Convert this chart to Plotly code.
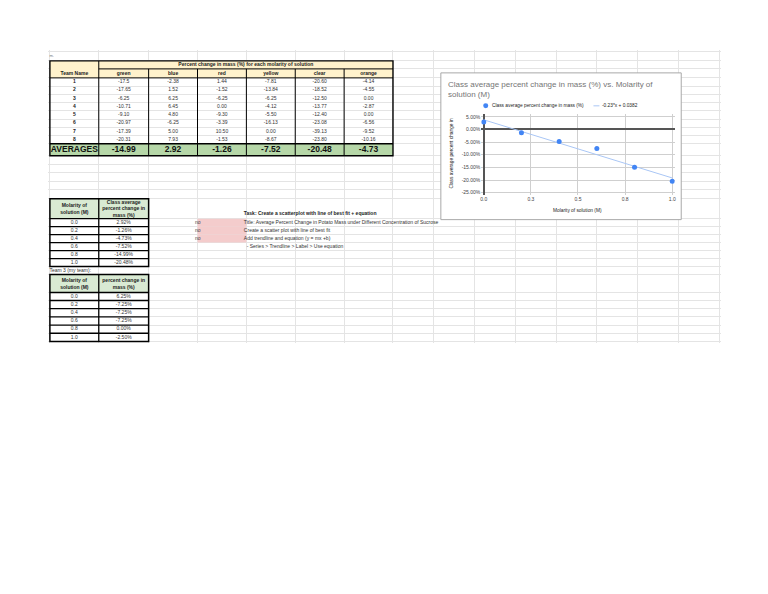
import numpy as np
import plotly.graph_objects as go

# ---------------- data ----------------
TEAM_NAMES = ["1", "2", "3", "4", "5", "6", "7", "8"]
SOLUTIONS = ["green", "blue", "red", "yellow", "clear", "orange"]
GREEN = ["-17.5", "-17.65", "-6.25", "-10.71", "-9.10", "-20.97", "-17.39", "-20.31"]
BLUE = ["-2.38", "1.52", "6.25", "6.45", "4.80", "-6.25", "5.00", "7.93"]
RED = ["1.44", "-1.52", "-6.25", "0.00", "-9.30", "-3.39", "10.50", "-1.53"]
YELLOW = ["-7.81", "-13.84", "-6.25", "-4.12", "-5.50", "-16.13", "0.00", "-8.67"]
CLEAR = ["-20.60", "-18.52", "-12.50", "-13.77", "-12.40", "-23.08", "-39.13", "-23.80"]
ORANGE = ["-4.14", "-4.55", "0.00", "-2.87", "0.00", "-6.56", "-9.52", "-10.16"]
AVERAGES = [-14.99, 2.92, -1.26, -7.52, -20.48, -4.73]

MOLARITY = [0.0, 0.2, 0.4, 0.6, 0.8, 1.0]
CLASS_AVG_PCT = [2.92, -1.26, -4.73, -7.52, -14.99, -20.48]
TEAM3_PCT = [6.25, -7.25, -7.25, -7.25, 0.00, -2.50]

X_TICKS = [0.0, 0.25, 0.5, 0.75, 1.0]
X_TICK_TEXT = ["0.0", "0.3", "0.5", "0.8", "1.0"]
Y_TICKS = [0.05, 0.0, -0.05, -0.10, -0.15, -0.20, -0.25]
Y_TICK_TEXT = ["5.00%", "0.00%", "-5.00%", "-10.00%", "-15.00%", "-20.00%", "-25.00%"]

CHART_TITLE = "Class average percent change in mass (%) vs. Molarity of<br>solution (M)"
SERIES_NAME = "Class average percent change in mass (%)"
X_TITLE = "Molarity of solution (M)"
Y_TITLE = "Class average percent change in"
TABLE_TITLE = "Percent change in mass (%) for each molarity of solution"
TASK_TITLE = "Task: Create a scatterplot with line of best fit + equation"
TASK_STATUS = ["no", "no", "no"]
TASK_ITEMS = [
    "Title: Average Percent Change in Potato Mass under Different Concentration of Sucrose",
    "Create a scatter plot with line of best fit",
    "Add trendline and equation (y = mx +b)",
    "  - Series > Trendline > Label > Use equation",
]

# ---------------- layout geometry (screen pixels) ----------------
OFF = 8                      # page body margin of the browser
W, H = 768 - OFF, 594 - OFF  # figure size so that it fits the window
FONT = "Liberation Sans"
SHEET_COLS = [49, 98, 148, 197, 246, 295, 344, 393, 434, 475, 516, 557, 597, 638, 679, 720]
SHEET_ROWS = [51, 60, 68, 77, 85.25, 93.5, 101.75, 110, 118.25, 126.5, 134.75, 143,
              155, 163.5, 172, 180.5, 189, 198, 218, 226, 234, 242, 250, 258, 266,
              274, 292, 300, 308.2, 316.4, 324.6, 332.8, 341]
PAD = 1.6


def pxx(x):
    return (x - OFF) / W


def pxy(y):
    return 1 - (y - OFF) / H


def mid(a, b):
    return (a + b) / 2


C = SHEET_COLS
R = SHEET_ROWS

fig = go.Figure()


def add_text(xs, ys, texts, size=5.0, color="#222222", bold=False, pos="middle center"):
    if bold:
        texts = [f"<b>{t}</b>" for t in texts]
    fig.add_trace(go.Scatter(
        x=xs, y=ys, text=texts, mode="text", textposition=pos,
        textfont=dict(size=size, color=color, family=FONT),
        hoverinfo="skip", showlegend=False, xaxis="x", yaxis="y", cliponaxis=False))


shapes = []


def rect(x0, x1, y0, y1, fill="rgba(0,0,0,0)", lc="rgba(0,0,0,0)", lw=0, layer="between"):
    shapes.append(dict(type="rect", xref="x", yref="y", x0=x0, x1=x1, y0=y0, y1=y1,
                       fillcolor=fill, line=dict(color=lc, width=lw), layer=layer))


def line(x0, x1, y0, y1, lc="#000000", lw=1.0, layer="between"):
    shapes.append(dict(type="line", xref="x", yref="y", x0=x0, x1=x1, y0=y0, y1=y1,
                       line=dict(color=lc, width=lw), layer=layer))


# ---- Table 1 ----
YEL = "#fff2cc"
rect(C[0], C[7], R[1], R[3], fill=YEL)
rect(C[0], C[7], R[11], R[12], fill="#b6d7a8")
line(C[1], C[7], R[2], R[2])
line(C[0], C[7], R[3], R[3])
line(C[0], C[7], R[11], R[11], lw=1.6)
line(C[1], C[1], R[1], R[12])
for k in range(2, 7):
    line(C[k], C[k], R[2], R[12])
rect(C[0], C[7], R[1], R[12], lc="#000000", lw=1.4)

add_text([mid(C[1], C[7])], [mid(R[1], R[2])], [TABLE_TITLE], bold=True)
add_text([mid(C[0], C[1])] + [mid(C[k + 1], C[k + 2]) for k in range(6)],
         [mid(R[2], R[3])] * 7, ["Team Name"] + SOLUTIONS, bold=True)
add_text([mid(C[0], C[1])] * 8, [mid(R[3 + i], R[4 + i]) for i in range(8)], TEAM_NAMES, bold=True)
for k, col in enumerate([GREEN, BLUE, RED, YELLOW, CLEAR, ORANGE]):
    add_text([mid(C[k + 1], C[k + 2])] * 8, [mid(R[3 + i], R[4 + i]) for i in range(8)], col,
             color="#333333")
add_text([mid(C[0], C[1])] + [mid(C[k + 1], C[k + 2]) for k in range(6)],
         [mid(R[11], R[12]) + 0.3] * 7, ["AVERAGES"] + [f"{v:.2f}" for v in AVERAGES],
         size=8.5, bold=True, color="#111111")
add_text([C[0] - 0.5], [mid(R[0], R[1])], ["m."], size=4, color="#777777", pos="middle right")

# ---- Table 2 & 3 ----
GRN = "#d9ead3"


def small_table(top, head, bottom, headers, vals):
    rect(C[0], C[2], R[top], R[head], fill=GRN)
    rect(C[0], C[2], R[head], R[bottom], fill="white")
    for r in range(head, bottom):
        line(C[0], C[2], R[r], R[r], lw=1.3)
    line(C[1], C[1], R[top], R[bottom], lw=1.3)
    rect(C[0], C[2], R[top], R[bottom], lc="#000000", lw=1.5)
    add_text([mid(C[0], C[1]), mid(C[1], C[2])], [mid(R[top], R[head]) + 0.5] * 2, headers, bold=True)
    ys = [mid(R[head + i], R[head + i + 1]) for i in range(len(vals))]
    add_text([mid(C[0], C[1])] * len(vals), ys, [f"{m:.1f}" for m in MOLARITY], color="#333333")
    add_text([mid(C[1], C[2])] * len(vals), ys, [f"{v:.2f}%" for v in vals], color="#333333")


small_table(17, 18, 24, ["Molarity of<br>solution (M)", "Class average<br>percent change in<br>mass (%)"],
            CLASS_AVG_PCT)
add_text([C[0] - 0.5], [mid(R[24], R[25])], ["Team 3 (my team):"], color="#333333", pos="middle right")
small_table(25, 26, 32, ["Molarity of<br>solution (M)", "percent change in<br>mass (%)"], TEAM3_PCT)

# ---- task block ----
for i in range(len(TASK_STATUS)):
    rect(C[3], C[4], R[18 + i], R[19 + i], fill="#f4cccc")
add_text([C[3] - 2.5] * 3, [mid(R[18 + i], R[19 + i]) for i in range(3)], TASK_STATUS,
         color="#444444", pos="middle right")
add_text([C[4] - 2.5], [R[18] - 5], [TASK_TITLE], bold=True, pos="middle right")
add_text([C[4] - 2.5] * 4, [mid(R[18 + i], R[19 + i]) for i in range(4)], TASK_ITEMS,
         color="#333333", pos="middle right")

# ---- chart box ----
BOX = (441, 682, 72, 219)
rect(BOX[0], BOX[1], BOX[2], BOX[3], fill="white", lc="#a8a8a8", lw=1)

# ---------------- chart ----------------
PX0, PX1, PY_TOP, PY_BOT = 484, 673, 116, 192
cpad = 2.5
xs_per_px = (X_TICKS[-1] - X_TICKS[0]) / (PX1 - PX0)
ys_per_px = (Y_TICKS[0] - Y_TICKS[-1]) / (PY_BOT - PY_TOP)

x_arr = np.array(MOLARITY)
y_arr = np.array(CLASS_AVG_PCT) / 100.0
slope, intercept = np.polyfit(x_arr, y_arr, 1)
fit_label = f"{slope:.2f}*x + {intercept:.4f}"
x_fit = np.array([min(MOLARITY), max(MOLARITY)])

fig.add_trace(go.Scatter(x=x_fit, y=slope * x_fit + intercept, mode="lines",
                         line=dict(color="#a9c6f5", width=1), xaxis="x2", yaxis="y2",
                         hoverinfo="skip", showlegend=False))
fig.add_trace(go.Scatter(x=MOLARITY, y=y_arr, mode="markers", name=SERIES_NAME,
                         marker=dict(color="#4285f4", size=5), xaxis="x2", yaxis="y2",
                         showlegend=False))

# manual legend & titles (in sheet pixel coordinates)
LEG_Y = 105
shapes.append(dict(type="circle", xref="x", yref="y", x0=483.5, x1=488.5, y0=LEG_Y - 2.5, y1=LEG_Y + 2.5,
                   fillcolor="#4285f4", line=dict(width=0), layer="above"))
line(594, 600, LEG_Y, LEG_Y, lc="#a9c6f5", lw=1, layer="above")

ann = []
ann.append(dict(xref="x", yref="y", x=446, y=89, text=CHART_TITLE, showarrow=False,
                xanchor="left", yanchor="middle", align="left",
                font=dict(size=8, color="#757575", family=FONT)))
ann.append(dict(xref="x", yref="y", x=490, y=LEG_Y, text=SERIES_NAME, showarrow=False,
                xanchor="left", yanchor="middle", font=dict(size=4.8, color="#222222", family=FONT)))
ann.append(dict(xref="x", yref="y", x=601, y=LEG_Y, text=fit_label, showarrow=False,
                xanchor="left", yanchor="middle", font=dict(size=4.8, color="#222222", family=FONT)))
ann.append(dict(xref="x", yref="y", x=452, y=153, text=Y_TITLE, showarrow=False, textangle=-90,
                xanchor="center", yanchor="middle", font=dict(size=4.8, color="#222222", family=FONT)))
ann.append(dict(xref="x", yref="y", x=578, y=210, text=X_TITLE, showarrow=False,
                xanchor="center", yanchor="middle", font=dict(size=4.8, color="#222222", family=FONT)))

tickfont = dict(size=5, color="#444444", family=FONT)
fig.update_layout(
    width=W, height=H, margin=dict(l=0, r=0, t=0, b=0),
    paper_bgcolor="white", plot_bgcolor="rgba(0,0,0,0)", showlegend=False,
    xaxis=dict(domain=[pxx(C[0] - PAD), pxx(C[-1] + PAD)], range=[C[0] - PAD, C[-1] + PAD],
               tickvals=SHEET_COLS, showgrid=True, gridcolor="#e4e4e4", gridwidth=1,
               showticklabels=False, zeroline=False, ticks="", showline=False, fixedrange=True),
    yaxis=dict(domain=[pxy(R[-1] + PAD), pxy(R[0] - PAD)], range=[R[-1] + PAD, R[0] - PAD],
               tickvals=SHEET_ROWS, showgrid=True, gridcolor="#e4e4e4", gridwidth=1,
               showticklabels=False, zeroline=False, ticks="", showline=False, fixedrange=True),
    xaxis2=dict(domain=[pxx(PX0 - cpad), pxx(PX1 + cpad)],
                range=[X_TICKS[0] - cpad * xs_per_px, X_TICKS[-1] + cpad * xs_per_px],
                anchor="y2", tickvals=X_TICKS, ticktext=X_TICK_TEXT, showgrid=True,
                gridcolor="#cfcfcf", gridwidth=1, zeroline=True, zerolinecolor="#555555",
                zerolinewidth=2, ticks="", tickfont=tickfont, showline=False),
    yaxis2=dict(domain=[pxy(PY_BOT + cpad), pxy(PY_TOP - cpad)],
                range=[Y_TICKS[-1] - cpad * ys_per_px, Y_TICKS[0] + cpad * ys_per_px],
                anchor="x2", tickvals=Y_TICKS, ticktext=Y_TICK_TEXT, showgrid=True,
                gridcolor="#cfcfcf", gridwidth=1, zeroline=True, zerolinecolor="#555555",
                zerolinewidth=2, ticks="", tickfont=tickfont, showline=False),
    shapes=shapes, annotations=ann,
)

fig.write_html("out.html")
